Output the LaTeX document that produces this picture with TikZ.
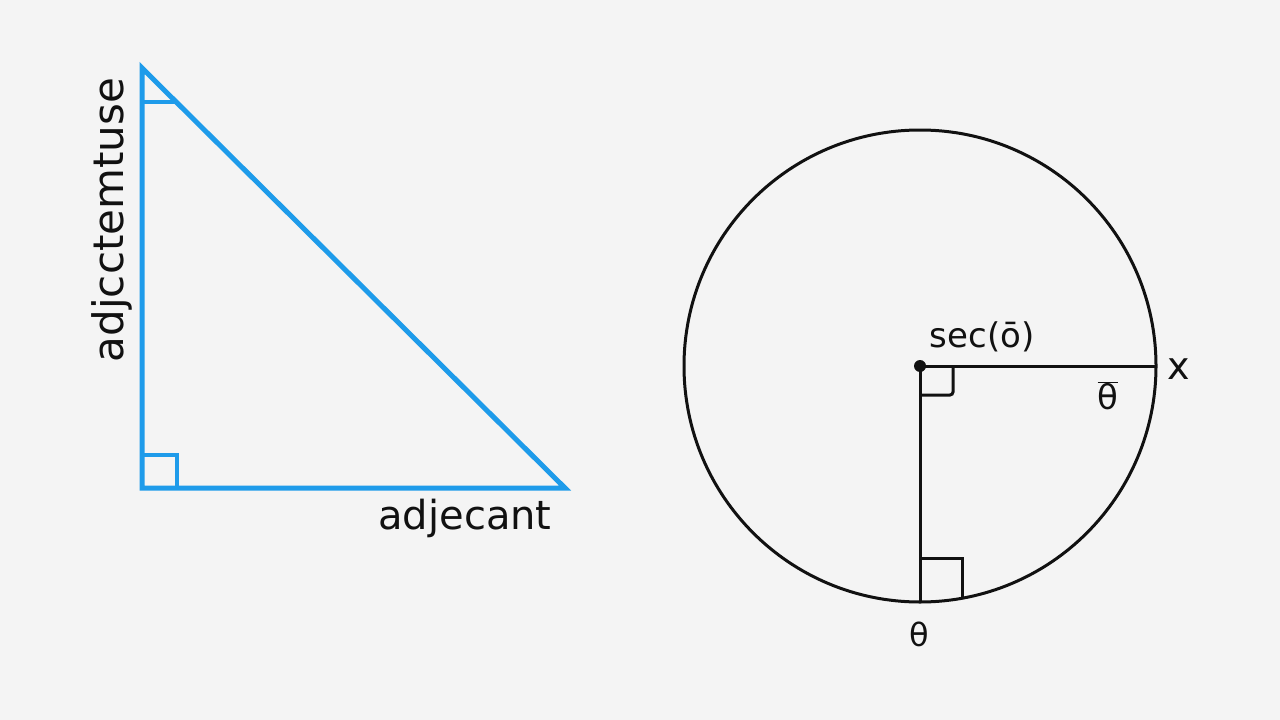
\documentclass[tikz,border=0pt]{standalone}
\usepackage{fontspec}
\setmainfont{DejaVu Sans}
\definecolor{bg}{HTML}{F4F4F4}
\definecolor{triblue}{HTML}{1E9BEA}
\definecolor{ink}{HTML}{111111}
\begin{document}
\begin{tikzpicture}[x=1pt,y=-1pt,
  tri/.style={draw=triblue,line width=5pt,line join=miter},
  anglemark/.style={draw=triblue,line width=4pt},
  circ/.style={draw=ink,line width=3pt},
  lbl/.style={text=ink,font=\fontsize{40}{42}\selectfont,inner sep=0pt},
  slbl/.style={text=ink,font=\fontsize{34}{36}\selectfont,inner sep=0pt}]
\fill[bg] (0,0) rectangle (1280,720);
\useasboundingbox (0,0) rectangle (1280,720);
% triangle
\coordinate (A) at (142,68);
\coordinate (B) at (142,488);
\coordinate (C) at (565,488);
\draw[tri] (A) -- (B) -- (C) -- cycle;
\draw[anglemark] (142,455) -- (177,455) -- (177,488);
\draw[anglemark] (142,102) -- (176,102);
\node[lbl,rotate=90,font=\fontsize{42}{44}\selectfont] (hyp) at (112,220) {adjcctemtuse};
\node[lbl] (adj) at (465,518) {adjecant};
% circle
\coordinate (O) at (920,366);
\coordinate (R) at (1156,366);
\coordinate (D) at (920,602);
\draw[circ] (O) circle (236);
\draw[circ] (O) -- (R);
\draw[circ] (O) -- (D);
\fill[ink] (O) circle (6);
\draw[circ,rounded corners=3pt] (920,395) -- (953,395) -- (953,366);
\draw[circ] (920,558) -- (962,558) -- (962,598);
\node[slbl] (sec) at (982,337) {sec(ō)};
\node[slbl,font=\fontsize{38}{40}\selectfont] (x) at (1179,369) {x};
\node[slbl] (tb) at (1108,396) {$\overline{\hbox{θ}}$};
\node[slbl,font=\fontsize{32}{34}\selectfont] (t) at (919,634) {θ};
\end{tikzpicture}
\end{document}
